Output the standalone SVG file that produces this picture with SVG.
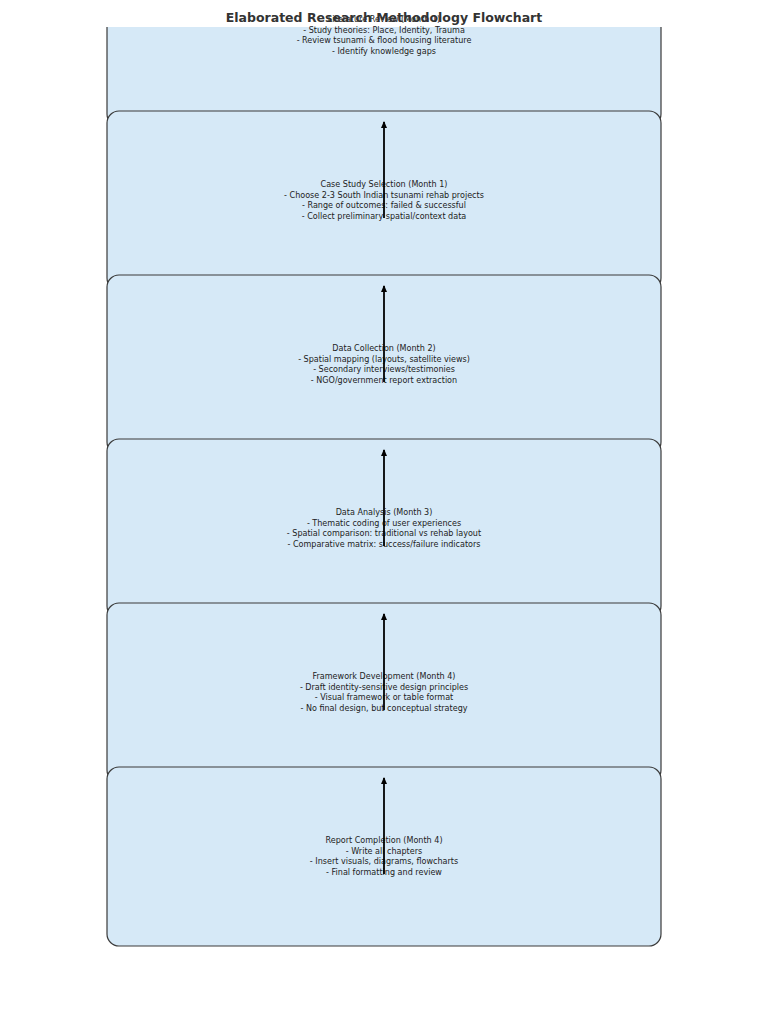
<svg xmlns="http://www.w3.org/2000/svg" width="768" height="1024" viewBox="0 0 768 1024">
<defs>
<clipPath id="axclip"><rect x="0" y="27" width="768" height="997"/></clipPath>
<marker id="ah" markerWidth="8" markerHeight="8" refX="6" refY="4" orient="auto" markerUnits="userSpaceOnUse"><path d="M0,1 L7,4 L0,7 Z" fill="#000"/></marker>
</defs>
<style>
.box{fill:#d6e9f7;stroke:#3a3a3a;stroke-width:1.2}
.t{font-family:"DejaVu Sans",sans-serif;font-size:8.05px;fill:#222;text-anchor:middle}
.title{font-family:"DejaVu Sans",sans-serif;font-size:12.5px;font-weight:bold;fill:#333;text-anchor:middle}
.arr{stroke:#000;stroke-width:1.8;fill:none}
</style>
<rect width="768" height="1024" fill="#fff"/>
<g clip-path="url(#axclip)">
<g id="n1"><rect class="box" x="107" y="-53" width="554" height="179" rx="12"/></g>
</g>
<g id="n1t">
<text class="t"><tspan x="384" y="22">Literature Review (Month 1)</tspan><tspan x="384" y="32.5">- Study theories: Place, Identity, Trauma</tspan><tspan x="384" y="43">- Review tsunami &amp; flood housing literature</tspan><tspan x="384" y="53.5">- Identify knowledge gaps</tspan></text>
</g>
<g id="n2"><rect class="box" x="107" y="111" width="554" height="179" rx="12"/>
<text class="t"><tspan x="384" y="187">Case Study Selection (Month 1)</tspan><tspan x="384" y="197.5">- Choose 2-3 South Indian tsunami rehab projects</tspan><tspan x="384" y="208">- Range of outcomes: failed &amp; successful</tspan><tspan x="384" y="218.5">- Collect preliminary spatial/context data</tspan></text></g>
<g id="c1"><line class="arr" x1="384" y1="218" x2="384" y2="122" marker-end="url(#ah)"/></g>
<g id="n3"><rect class="box" x="107" y="275" width="554" height="179" rx="12"/>
<text class="t"><tspan x="384" y="351">Data Collection (Month 2)</tspan><tspan x="384" y="361.5">- Spatial mapping (layouts, satellite views)</tspan><tspan x="384" y="372">- Secondary interviews/testimonies</tspan><tspan x="384" y="382.5">- NGO/government report extraction</tspan></text></g>
<g id="c2"><line class="arr" x1="384" y1="382" x2="384" y2="286" marker-end="url(#ah)"/></g>
<g id="n4"><rect class="box" x="107" y="439" width="554" height="179" rx="12"/>
<text class="t"><tspan x="384" y="515">Data Analysis (Month 3)</tspan><tspan x="384" y="525.5">- Thematic coding of user experiences</tspan><tspan x="384" y="536">- Spatial comparison: traditional vs rehab layout</tspan><tspan x="384" y="546.5">- Comparative matrix: success/failure indicators</tspan></text></g>
<g id="c3"><line class="arr" x1="384" y1="546" x2="384" y2="450" marker-end="url(#ah)"/></g>
<g id="n5"><rect class="box" x="107" y="603" width="554" height="179" rx="12"/>
<text class="t"><tspan x="384" y="679">Framework Development (Month 4)</tspan><tspan x="384" y="689.5">- Draft identity-sensitive design principles</tspan><tspan x="384" y="700">- Visual framework or table format</tspan><tspan x="384" y="710.5">- No final design, but conceptual strategy</tspan></text></g>
<g id="c4"><line class="arr" x1="384" y1="710" x2="384" y2="614" marker-end="url(#ah)"/></g>
<g id="n6"><rect class="box" x="107" y="767" width="554" height="179" rx="12"/>
<text class="t"><tspan x="384" y="843">Report Completion (Month 4)</tspan><tspan x="384" y="853.5">- Write all chapters</tspan><tspan x="384" y="864">- Insert visuals, diagrams, flowcharts</tspan><tspan x="384" y="874.5">- Final formatting and review</tspan></text></g>
<g id="c5"><line class="arr" x1="384" y1="874" x2="384" y2="778" marker-end="url(#ah)"/></g>
<text class="title" x="384" y="22">Elaborated Research Methodology Flowchart</text>
</svg>
